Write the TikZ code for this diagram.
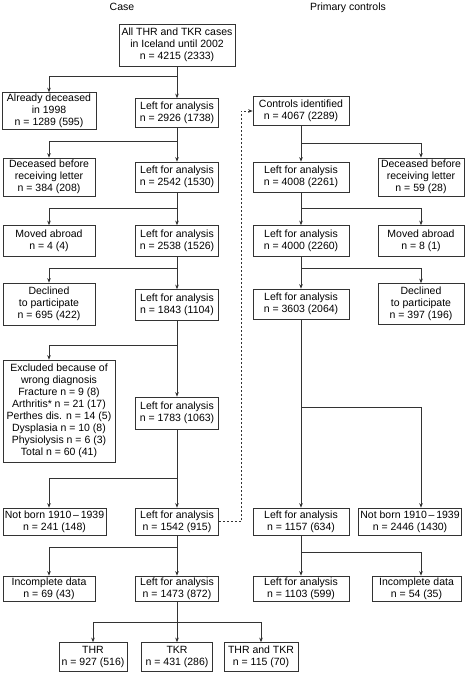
\documentclass[tikz,border=0pt]{standalone}
\usepackage{fontspec}
\setmainfont{Liberation Sans}
\usetikzlibrary{arrows.meta, positioning}

\begin{document}
\begin{tikzpicture}[
    x=1pt, y=-1pt,
    font=\fontsize{10.5}{12}\selectfont,
    block/.style={rectangle, draw=black!80, line width=0.7pt, inner xsep=2pt, inner ysep=1.5pt, align=center, minimum height=30pt},
    casebox/.style={block, minimum width=83pt},
    ctrlbox/.style={block, minimum width=96pt},
    sidebox/.style={block, minimum width=92pt},
    rsidebox/.style={block, minimum width=86pt},
    arrow/.style={-{Stealth[length=4.5pt, width=3.6pt]}, draw=black!80, line width=0.7pt},
    link/.style={arrow, dash pattern=on 2pt off 2pt}
]
    \useasboundingbox (0,0) rectangle (468,677);

    \node[anchor=base] (casehd) at (122,11) {Case};
    \node[anchor=base] (ctrlhd) at (348,11) {Primary controls};

    \node[block, minimum width=116pt, minimum height=42pt] (all) at (177,45) {All THR and TKR cases\\in Iceland until 2002\\n = 4215 (2333)};

    \node[sidebox, minimum width=94pt, minimum height=35pt] (dead1) at (49,111) {Already deceased\\in 1998\\n = 1289 (595)};
    \node[casebox, minimum height=29pt] (left1) at (177,113) {Left for analysis\\n = 2926 (1738)};
    \node[ctrlbox, minimum height=29pt] (ctrl) at (301,111) {Controls identified\\n = 4067 (2289)};

    \node[sidebox, minimum height=38pt] (dead2) at (49,177) {Deceased before\\receiving letter\\n = 384 (208)};
    \node[casebox] (left2) at (177,177) {Left for analysis\\n = 2542 (1530)};
    \node[ctrlbox] (left2c) at (301,177) {Left for analysis\\n = 4008 (2261)};
    \node[rsidebox, minimum height=38pt] (dead2c) at (421,177) {Deceased before\\receiving letter\\n = 59 (28)};

    \node[sidebox, minimum height=31pt] (moved) at (49,241) {Moved abroad\\n = 4 (4)};
    \node[casebox, minimum height=31pt] (left3) at (177,241) {Left for analysis\\n = 2538 (1526)};
    \node[ctrlbox, minimum height=31pt] (left3c) at (301,241) {Left for analysis\\n = 4000 (2260)};
    \node[rsidebox, minimum height=31pt] (movedc) at (421,241) {Moved abroad\\n = 8 (1)};

    \node[sidebox, minimum height=42pt] (decl) at (49,304) {Declined\\to participate\\n = 695 (422)};
    \node[casebox, minimum height=31pt] (left4) at (177,305) {Left for analysis\\n = 1843 (1104)};
    \node[ctrlbox] (left4c) at (301,304) {Left for analysis\\n = 3603 (2064)};
    \node[rsidebox, minimum height=41pt] (declc) at (421,304) {Declined\\to participate\\n = 397 (196)};

    \node[block, minimum width=112pt, minimum height=102pt] (excl) at (59,411) {Excluded because of\\wrong diagnosis\\Fracture n = 9 (8)\\Arthritis* n = 21 (17)\\Perthes dis. n = 14 (5)\\Dysplasia n = 10 (8)\\Physiolysis n = 6 (3)\\Total n = 60 (41)};
    \node[casebox, minimum height=32pt] (left5) at (177,413) {Left for analysis\\n = 1783 (1063)};

    \node[block, minimum width=103pt, minimum height=27pt] (notborn) at (54.5,521.5) {Not born 1910\,\textendash\,1939\\n = 241 (148)};
    \node[casebox, minimum height=27pt] (left6) at (177,521.5) {Left for analysis\\n = 1542 (915)};
    \node[ctrlbox, minimum height=27pt] (left6c) at (301,521.5) {Left for analysis\\n = 1157 (634)};
    \node[block, minimum width=103pt, minimum height=27pt] (notbornc) at (410,521.5) {Not born 1910\,\textendash\,1939\\n = 2446 (1430)};

    \node[sidebox, minimum height=25pt] (incomp) at (49,588.5) {Incomplete data\\n = 69 (43)};
    \node[casebox, minimum height=25pt] (left7) at (177,588.5) {Left for analysis\\n = 1473 (872)};
    \node[ctrlbox, minimum height=25pt] (left7c) at (301,588.5) {Left for analysis\\n = 1103 (599)};
    \node[block, minimum width=89pt, minimum height=25pt] (incompc) at (416.5,588.5) {Incomplete data\\n = 54 (35)};

    \node[block, minimum width=68pt, minimum height=29pt] (thr) at (93,657) {THR\\n = 927 (516)};
    \node[block, minimum width=71pt, minimum height=29pt] (tkr) at (177,657) {TKR\\n = 431 (286)};
    \node[block, minimum width=74pt, minimum height=29pt] (both) at (261,657) {THR and TKR\\n = 115 (70)};

    \draw[arrow] (all) -- (left1);
    \draw[arrow] (all.south |- 0,76) -| (dead1);
    \draw[arrow] (left1) -- (left2);
    \draw[arrow] (left1.south |- 0,141) -| (dead2);
    \draw[arrow] (left2) -- (left3);
    \draw[arrow] (left2.south |- 0,208) -| (moved);
    \draw[arrow] (left3) -- (left4);
    \draw[arrow] (left3.south |- 0,268) -| (decl);
    \draw[arrow] (left4) -- (left5);
    \draw[arrow] (left4.south |- 0,345) -| (excl.north -| decl);
    \draw[arrow] (left5) -- (left6);
    \draw[arrow] (left5.south |- 0,478) -| (notborn.north -| decl);
    \draw[arrow] (left6) -- (left7);
    \draw[arrow] (left6.south |- 0,547) -| (incomp);
    \draw[arrow] (left7) -- (tkr);
    \draw[arrow] (left7.south |- 0,622) -| (thr);
    \draw[arrow] (left7.south |- 0,622) -| (both);

    \draw[arrow] (ctrl) -- (left2c);
    \draw[arrow] (ctrl.south |- 0,143) -| (dead2c);
    \draw[arrow] (left2c) -- (left3c);
    \draw[arrow] (left2c.south |- 0,208) -| (movedc);
    \draw[arrow] (left3c) -- (left4c);
    \draw[arrow] (left3c.south |- 0,268) -| (declc);
    \draw[arrow] (left4c) -- (left6c);
    \draw[arrow] (left4c.south |- 0,407) -| (notbornc.north -| declc);
    \draw[arrow] (left6c) -- (left7c);
    \draw[arrow] (left6c.south |- 0,552) -| (incompc.north -| declc);

    \draw[link] (left6.east) -- ++(22.5,0) |- (ctrl);
\end{tikzpicture}
\end{document}
